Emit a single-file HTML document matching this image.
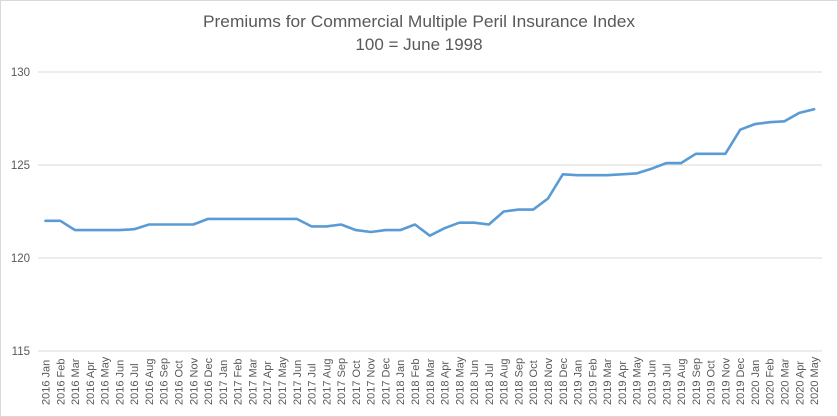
<!DOCTYPE html>
<html><head><meta charset="utf-8"><style>
html,body{margin:0;padding:0;background:#fff}
svg{display:block}
text{font-family:"Liberation Sans",sans-serif;fill:#595959}
</style></head><body>
<svg id="c" width="838" height="417" xmlns="http://www.w3.org/2000/svg">
<rect x="0.5" y="0.5" width="837" height="416" fill="#fff" stroke="#d9d9d9"/>
<text x="419" y="27" font-size="17" text-anchor="middle" textLength="432" lengthAdjust="spacingAndGlyphs">Premiums for Commercial Multiple Peril Insurance Index</text>
<text x="419" y="50" font-size="17" text-anchor="middle">100 = June 1998</text>
<g id="g"></g>
</svg>
<script>
var g=document.getElementById('g'),h='';
function Y(v){return 258-(v-120)*18.6;}
[115,120,125,130].forEach(function(v){var y=Y(v);
h+='<line x1="38" x2="822" y1="'+y+'" y2="'+y+'" stroke="#d9d9d9" stroke-width="1"/>';
h+='<text x="30" y="'+(y+4)+'" font-size="11.5" text-anchor="end">'+v+'</text>';});
var d=[122,122,121.5,121.5,121.5,121.5,121.55,121.8,121.8,121.8,121.8,122.1,
122.1,122.1,122.1,122.1,122.1,122.1,121.7,121.7,121.8,121.5,121.4,121.5,
121.5,121.8,121.2,121.6,121.9,121.9,121.8,122.5,122.6,122.6,123.2,124.5,
124.45,124.45,124.45,124.5,124.55,124.8,125.1,125.1,125.6,125.6,125.6,126.9,
127.2,127.3,127.35,127.8,128.0];
var m=["Jan","Feb","Mar","Apr","May","Jun","Jul","Aug","Sep","Oct","Nov","Dec"];
var pts=[];
for(var i=0;i<d.length;i++){var x=45.5+i*14.78;pts.push(x.toFixed(1)+','+Y(d[i]).toFixed(1));
var lab=(2016+Math.floor(i/12))+' '+m[i%12];
h+='<text transform="translate('+(x+4)+',405) rotate(-90)" font-size="11">'+lab+'</text>';}
h+='<polyline points="'+pts.join(' ')+'" fill="none" stroke="#5b9bd5" stroke-width="2.6" stroke-linejoin="round" stroke-linecap="round"/>';
g.innerHTML=h;
</script>
</body></html>
